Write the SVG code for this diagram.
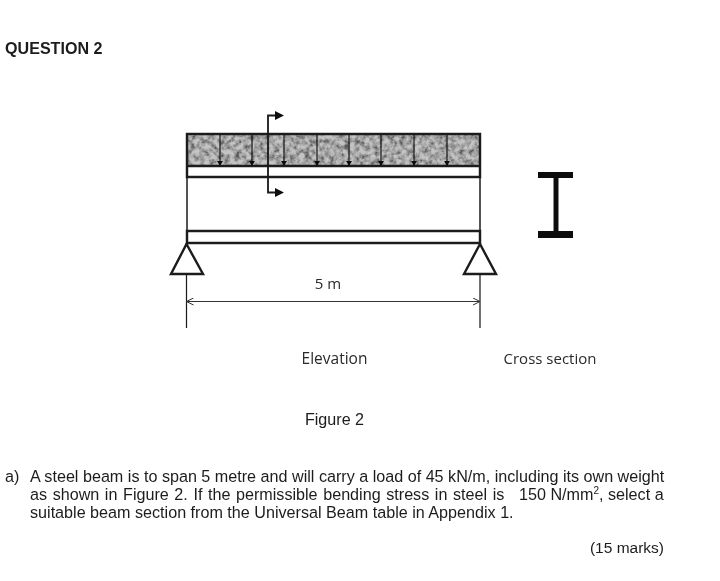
<svg xmlns="http://www.w3.org/2000/svg" width="720" height="581" viewBox="0 0 720 581">
<style>
.a{font-family:"Liberation Sans",Arial,sans-serif;fill:#1c1c1c}
.b{font-family:"Open Sans","Noto Sans",sans-serif;fill:#2a2a2a}
.q{font-size:16.15px}
.l{stroke:#1a1a1a;fill:none}
</style>
<defs>
<filter id="noise" x="0" y="0" width="100%" height="100%">
<feTurbulence type="fractalNoise" baseFrequency="0.2" numOctaves="3" seed="7"/>
<feColorMatrix type="matrix" values="0 0 0 0 0.1 0 0 0 0 0.1 0 0 0 0 0.1 2.2 0 0 0 -0.72"/>
<feComposite in2="SourceGraphic" operator="over"/>
</filter>
<filter id="soft" x="-5%" y="-5%" width="110%" height="110%"><feGaussianBlur stdDeviation="0.4"/></filter>
<marker id="tip" markerWidth="6" markerHeight="6" refX="5" refY="3" orient="auto" markerUnits="userSpaceOnUse"><path d="M0 0L5 3L0 6z" fill="#111"/></marker>
<marker id="open" markerWidth="8" markerHeight="8" refX="7" refY="4" orient="auto-start-reverse" markerUnits="userSpaceOnUse"><path d="M0 0.5L7 4L0 7.5" fill="none" stroke="#333"/></marker>
</defs>
<rect width="720" height="581" fill="#fff"/>
<g id="load" filter="url(#soft)">
<rect x="188" y="135" width="292" height="31" fill="#c4c4c4" filter="url(#noise)"/>
</g>
<g id="beam" filter="url(#soft)">
<path class="l" stroke-width="2.4" d="M187 134H480V177H187zM187 166H480"/>
<path class="l" stroke-width="1.5" d="M187 177V231M480 177V231"/>
<path class="l" stroke-width="2.4" d="M187 231H480V243H187z"/>
</g>
<g id="connectors" filter="url(#soft)">
<g class="l" stroke-width="1.2">
<path d="M220 135V166" marker-end="url(#tip)"/>
<path d="M252 135V166" marker-end="url(#tip)"/>
<path d="M284 135V166" marker-end="url(#tip)"/>
<path d="M317 135V166" marker-end="url(#tip)"/>
<path d="M349 135V166" marker-end="url(#tip)"/>
<path d="M381 135V166" marker-end="url(#tip)"/>
<path d="M414 135V166" marker-end="url(#tip)"/>
<path d="M447 135V166" marker-end="url(#tip)"/>
</g>
<path class="l" stroke-width="1.8" d="M278 115.500H268V192.500H278"/>
<path d="M284 115.500L275 111V120zM284 192.500L275 188V197z" fill="#111"/>
<path class="l" stroke-width="1.2" d="M186.500 274V328M480 274V328"/>
<path d="M186.500 301.500H480" stroke="#333" stroke-width="1.2" fill="none" marker-start="url(#open)" marker-end="url(#open)"/>
</g>
<g id="support-left" filter="url(#soft)"><path class="l" stroke-width="2.4" d="M186.500 244L171 274H203z" style="fill:#fff"/></g>
<g id="support-right" filter="url(#soft)"><path class="l" stroke-width="2.4" d="M480 244L464 274H496z" style="fill:#fff"/></g>
<g id="section" filter="url(#soft)">
<path d="M538 172H573V178H558.500V231H573V238H538V231H553.500V178H538z" fill="#111"/>
</g>
<g id="labels" filter="url(#soft)">
<text class="a" x="5" y="54" font-size="16.100" font-weight="700">QUESTION 2</text>
<text class="b" x="328" y="289" font-size="15" text-anchor="middle">5 m</text>
<text class="b" x="334.500" y="364" font-size="15.500" text-anchor="middle">Elevation</text>
<text class="b" x="550" y="364" font-size="15" text-anchor="middle">Cross section</text>
<text class="a" x="334.500" y="425" font-size="16.100" text-anchor="middle">Figure 2</text>
<text class="a q" x="5" y="481.500">a)</text>
<text class="a q" x="30" y="481.500">A steel beam is to span 5 metre and will carry a load of 45 kN/m, including its own weight</text>
<text class="a q" x="30" y="499.500" word-spacing="1.1">as shown in Figure 2. If the permissible bending stress in steel is</text>
<text class="a q" x="519" y="499.500">150 N/mm<tspan font-size="10" dy="-6">2</tspan><tspan dy="6">, select a</tspan></text>
<text class="a q" x="30" y="517.500">suitable beam section from the Universal Beam table in Appendix 1.</text>
<text class="a" x="664" y="553" font-size="15.500" text-anchor="end">(15 marks)</text>
</g>
</svg>
